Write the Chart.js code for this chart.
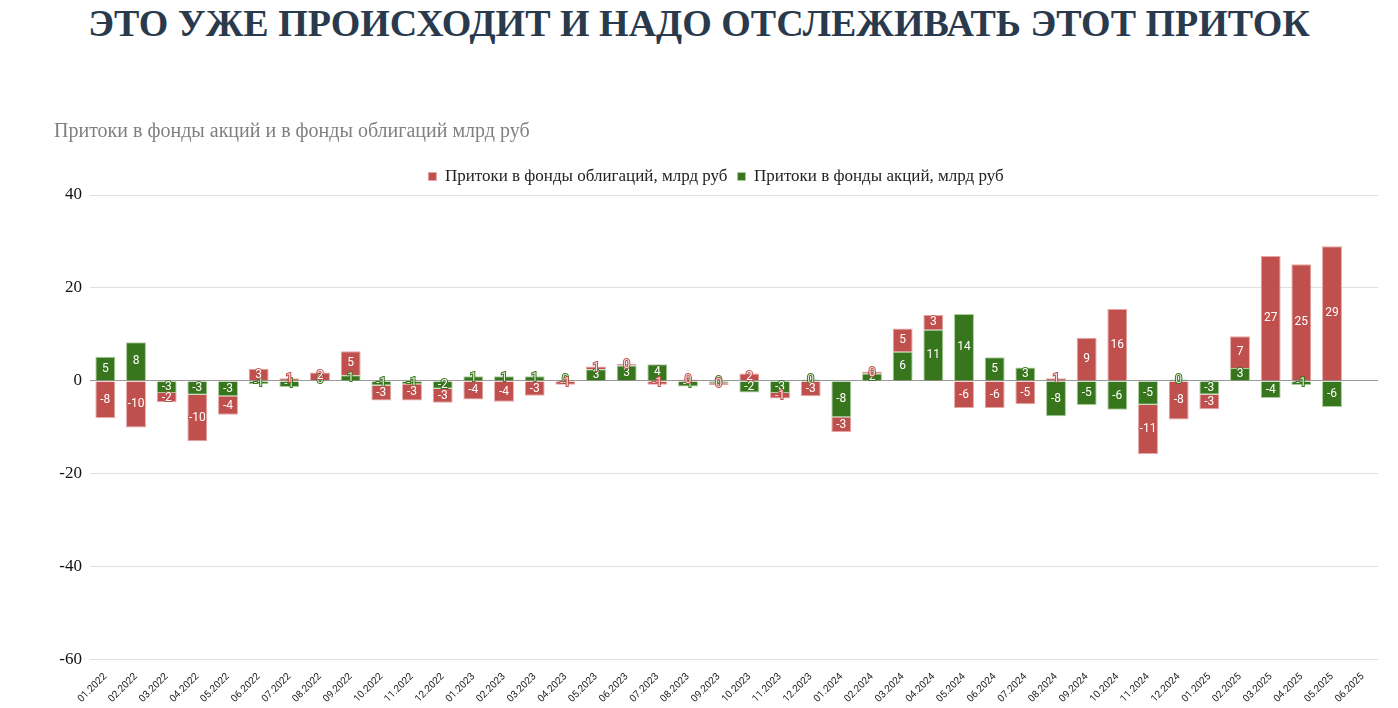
<!DOCTYPE html>
<html lang="ru">
<head>
<meta charset="UTF-8" />
<title>Притоки в фонды</title>
<script src="https://cdn.jsdelivr.net/npm/chart.js"></script>
<style>
  body { margin: 0; background: #fff; }
  h1 { margin: 0; height: 60px; text-align: center; font: bold 38px "Liberation Serif", serif; color: #2a3a4d; line-height: 46px; }
  .wrap { position: relative; width: 1398px; height: 648px; }
</style>
</head>
<body>
<h1>ЭТО УЖЕ ПРОИСХОДИТ И НАДО ОТСЛЕЖИВАТЬ ЭТОТ ПРИТОК</h1>
<div class="wrap"><canvas id="c"></canvas></div>
<script>
const months = ["01.2022","02.2022","03.2022","04.2022","05.2022","06.2022","07.2022","08.2022","09.2022","10.2022","11.2022","12.2022",
  "01.2023","02.2023","03.2023","04.2023","05.2023","06.2023","07.2023","08.2023","09.2023","10.2023","11.2023","12.2023",
  "01.2024","02.2024","03.2024","04.2024","05.2024","06.2024","07.2024","08.2024","09.2024","10.2024","11.2024","12.2024",
  "01.2025","02.2025","03.2025","04.2025","05.2025","06.2025"];
// bond funds (red)
const bonds = [-8,-10,-2,-10,-4,2.6,0.6,1.6,5.2,-3.2,-3.5,-3,-4,-4.5,-3.2,-0.8,0.6,0.4,-0.8,0.3,-0.4,1.6,-1.2,-3.3,
  -3.2,0.4,5,3.2,-5.8,-5.8,-5,0.6,9.3,15.5,-10.6,-8.3,-3.2,6.8,26.9,25.1,29,null];
// equity funds (green)
const stocks = [5.2,8.3,-2.6,-3,-3.3,-0.7,-1.3,0.2,1.2,-1,-0.7,-1.7,1,1,1,0.2,2.5,3.3,3.6,-1.2,-0.5,-2.5,-2.6,0.3,
  -7.8,1.6,6.3,11,14.4,5.1,2.9,-7.6,-5.2,-6.2,-5.1,0.3,-2.9,2.8,-3.7,-0.9,-5.6,null];
const yTicks = [40,20,0,-20,-40,-60];

const labelPlugin = {
  id: "barLabels",
  afterDatasetsDraw(chart) {
    const ctx = chart.ctx;
    ctx.save();
    ctx.font = "12px Roboto, sans-serif";
    ctx.textAlign = "center";
    ctx.textBaseline = "middle";
    chart.data.datasets.forEach((ds, i) => {
      chart.getDatasetMeta(i).data.forEach((bar, j) => {
        const v = ds.data[j];
        if (v === null) return;
        const y = (bar.y + bar.base) / 2;
        const t = String(Math.round(v) === 0 ? 0 : Math.round(v));
        const small = Math.abs(v) < 1.5;
        ctx.lineWidth = 2;
        ctx.strokeStyle = ds.backgroundColor;
        ctx.strokeText(t, bar.x, y);
        ctx.fillStyle = small ? (ds.backgroundColor === "#38761d" ? "#dcefd6" : "#f3dcdc") : "#ffffff";
        ctx.fillText(t, bar.x, y);
      });
    });
    ctx.restore();
  }
};

new Chart(document.getElementById("c"), {
  type: "bar",
  data: {
    labels: months,
    datasets: [
      { label: "Притоки в фонды акций, млрд руб", data: stocks, backgroundColor: "#38761d", borderColor: "#a8cc9a", borderWidth: 1 },
      { label: "Притоки в фонды облигаций, млрд руб", data: bonds, backgroundColor: "#c0504d", borderColor: "#e6a6a4", borderWidth: 1 }
    ]
  },
  options: {
    responsive: true,
    maintainAspectRatio: false,
    animation: false,
    layout: { padding: { left: 54, right: 20, top: 0, bottom: 0 } },
    datasets: { bar: { categoryPercentage: 0.65, barPercentage: 1 } },
    plugins: {
      title: { display: true, text: "Притоки в фонды акций и в фонды облигаций млрд руб", align: "start",
        color: "#808080", font: { family: "Liberation Serif", size: 20, weight: "normal" }, padding: { top: 60, bottom: 14 } },
      legend: { labels: { usePointStyle: true, pointStyle: "rect", boxWidth: 8, boxHeight: 8, color: "#222",
        padding: 10, sort: (a, b) => b.datasetIndex - a.datasetIndex,
        font: { family: "Liberation Serif", size: 17 } } },
      tooltip: { enabled: false }
    },
    scales: {
      x: { stacked: true, grid: { display: false }, border: { display: false },
        ticks: { maxRotation: 45, minRotation: 45, autoSkip: false, color: "#222", font: { family: "Roboto", size: 10 } } },
      y: { stacked: true, min: -60, max: 40, border: { display: false },
        afterFit: s => { s.width = 36; },
        afterBuildTicks: s => { s.ticks = yTicks.map(v => ({ value: v })); },
        grid: { color: c => c.tick.value === 0 ? "#999" : "#e0e0e0", drawTicks: false },
        ticks: { padding: 8, color: "#111", font: { family: "Liberation Serif", size: 17 } } }
    }
  },
  plugins: [labelPlugin, { id: "legendGap", beforeInit(chart) {
    const orig = chart.legend && chart.legend.fit;
  }, afterLayout() {} }]
});
</script>
</body>
</html>
